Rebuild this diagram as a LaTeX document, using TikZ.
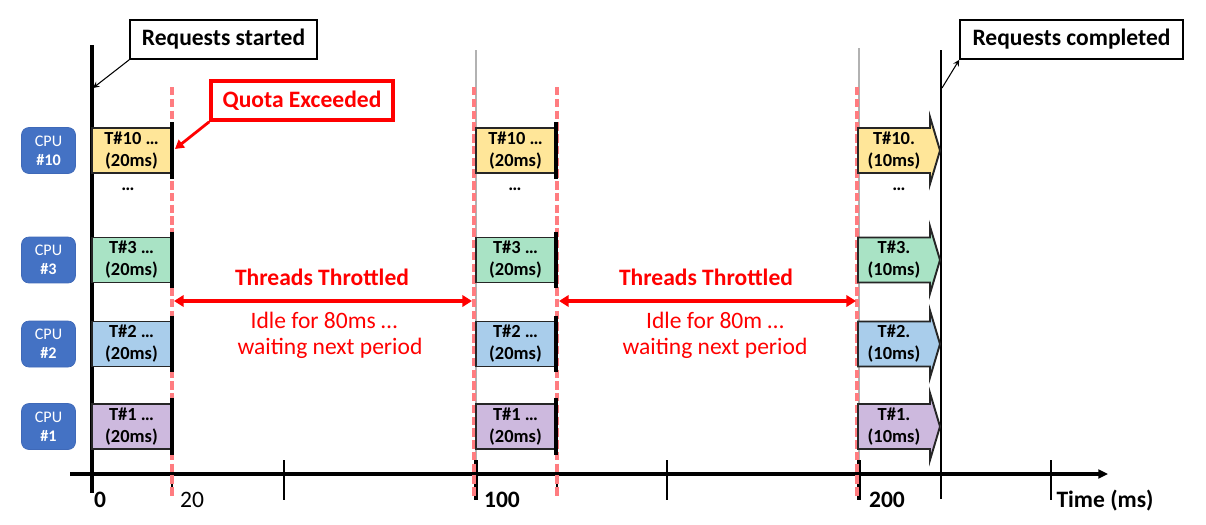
\documentclass[tikz,border=0pt]{standalone}
\usepackage{fontspec}
\setmainfont{Carlito}
\usetikzlibrary{
		calc,
		positioning,
		arrows.meta
	}
\definecolor{cpublue}{HTML}{4472C4}
\definecolor{cpuline}{HTML}{3F69B8}
\definecolor{yellowT}{HTML}{FFE699}
\definecolor{greenT}{HTML}{A9E3C5}
\definecolor{blueT}{HTML}{A9CDEB}
\definecolor{purpleT}{HTML}{CDB9DE}
\definecolor{dashred}{HTML}{FF7C80}
\definecolor{quotared}{HTML}{FF0000}
\tikzset{
		>=stealth
	}

\begin{document}
\begin{tikzpicture}[x=0.02cm,y=-0.02cm,
    cpu/.style={rectangle,rounded corners=0.15cm,fill=cpublue,draw=cpuline,line width=0.4pt,
      minimum width=1.08cm,minimum height=0.92cm,inner sep=0pt,align=center,text=white,
      font=\fontsize{9.2}{10.8}\selectfont},
    task/.style={rectangle,draw=black!85,line width=1.1pt,minimum width=1.58cm,
      minimum height=0.9cm,inner sep=0pt,align=center,font=\bfseries\fontsize{10.5}{12.5}\selectfont},
    tasktext/.style={inner sep=0pt,align=center,font=\bfseries\fontsize{10.5}{12.5}\selectfont},
    endbar/.style={black,line width=1.8pt},
    callout/.style={rectangle,draw=black,line width=0.9pt,minimum height=0.78cm,inner sep=0pt,
      font=\bfseries\fontsize{13.4}{16}\selectfont},
    period/.style={dashred,line width=1.9pt,dash pattern=on 4.8pt off 1.9pt},
    throttle/.style={quotared,line width=2.1pt,{Triangle[length=5.5pt,width=6.5pt]}-{Triangle[length=5.5pt,width=6.5pt]}},
    redtext/.style={text=quotared,inner sep=0pt,font=\fontsize{13.4}{16}\selectfont},
    ticklabel/.style={inner sep=0pt,font=\fontsize{13.4}{16}\selectfont}]
  \useasboundingbox (0,0) rectangle (1206,524);

  % time axis
  \coordinate (axL) at (70,474);
  \coordinate (axR) at (1108,474);
  \draw[line width=2.2pt,-{Triangle[length=5.5pt,width=5pt]}] (axL) -- (axR);

  \coordinate (startTop) at (92,45);
  \coordinate (startBot) at (92,493);
  \draw[line width=2.2pt] (startTop) -- (startBot);
  \coordinate (doneTop) at (941,50);
  \coordinate (doneBot) at (941,499);
  \draw[line width=1.3pt] (doneTop) -- (doneBot);

  \draw[gray!60,line width=0.7pt] (476,50) -- (476,474);
  \draw[gray!60,line width=0.7pt] (859,48) -- (859,474);

  \draw[line width=1pt] (284,460) -- (284,500);
  \draw[line width=1pt] (667,460) -- (667,500);
  \draw[line width=1pt] (1051,460) -- (1051,500);
  \draw[line width=1pt] (172,474) -- (172,490);
  \draw[line width=1pt] (557,474) -- (557,490);
  \draw[line width=2.2pt] (476,460) -- (476,500);
  \draw[line width=2.2pt] (859,460) -- (859,500);

  \node[ticklabel,font=\bfseries\fontsize{13.4}{16}\selectfont] (t0) at (100,500) {0};
  \node[ticklabel] (t20) at (192,500) {20};
  \node[ticklabel,font=\bfseries\fontsize{13.4}{16}\selectfont] (t100) at (502,500) {100};
  \node[ticklabel,font=\bfseries\fontsize{13.4}{16}\selectfont] (t200) at (887,500) {200};
  \node[ticklabel,font=\bfseries\fontsize{13.4}{16}\selectfont] (tunit) at (1105,501) {Time (ms)};

  % quota periods
  \draw[period] (172,87) -- (172,498);
  \draw[period] (474,87) -- (474,498);
  \draw[period] (557,87) -- (557,498);
  \draw[period] (857,87) -- (857,498);

  % cpus and threads
  \foreach \r/\y/\c in {10/150.5/yellowT, 3/260/greenT, 2/344/blueT, 1/426.5/purpleT}{
    \node[cpu] (cpu\r) at (48.5,\y) {CPU\\\textbf{\#\r}};
    \node[task,fill=\c] (ta\r) at (131.5,\y) {T\#\r\ …\\(20ms)};
    \draw[endbar] ($(ta\r.north east)+(0,-5)$) -- ($(ta\r.south east)+(0,5)$);
    \node[task,fill=\c] (tb\r) at (515.5,\y) {T\#\r\ …\\(20ms)};
    \draw[endbar] ($(tb\r.north east)+(0,-5)$) -- ($(tb\r.south east)+(0,5)$);
    \draw[draw=black!85,line width=1.1pt,fill=\c] (858,\y-22.5) -- (930,\y-22.5) -- (930,\y-33.5)
      -- (940,\y) -- (930,\y+33.5) -- (930,\y+22.5) -- (858,\y+22.5) -- cycle;
    \node[tasktext] (tc\r) at (894,\y) {T\#\r.\\(10ms)};
  }
  \node[tasktext] (dotsA) at (128,189) {…};
  \node[tasktext] (dotsB) at (515,189) {…};
  \node[tasktext] (dotsC) at (899,189) {…};

  % throttled intervals
  \coordinate (thA1) at (174,301);
  \coordinate (thA2) at (472,301);
  \coordinate (thB1) at (559,301);
  \coordinate (thB2) at (856,301);
  \draw[throttle] (thA1) -- (thA2);
  \draw[throttle] (thB1) -- (thB2);
  \node[redtext,font=\bfseries\fontsize{13.4}{16}\selectfont] (thrA) at (322,277) {Threads Throttled};
  \node[redtext] (idleA) at (324,320) {Idle for 80ms …};
  \node[redtext] (waitA) at (330,348) {waiting next period};
  \node[redtext,font=\bfseries\fontsize{13.4}{16}\selectfont] (thrB) at (706,277) {Threads Throttled};
  \node[redtext] (idleB) at (715,320) {Idle for 80m …};
  \node[redtext] (waitB) at (715,348) {waiting next period};

  % callouts
  \node[callout,minimum width=3.74cm,fill=white] (started) at (223.5,39.5) {Requests started};
  \coordinate (startedTip) at (93,88);
  \draw[line width=0.6pt,->] (started.south west) -- (startedTip);

  \node[callout,minimum width=4.46cm,fill=white] (completed) at (1071.5,39.5) {Requests completed};
  \coordinate (completedTail) at (942,88);
  \draw[line width=0.6pt,->] (completedTail) -- (completed.south west);

  \node[callout,draw=quotared,text=quotared,line width=2pt,minimum width=3.64cm,fill=white] (quota) at (302,100.5) {Quota Exceeded};
  \coordinate (quotaTip) at (175,149);
  \draw[quotared,line width=1.6pt,-{Triangle[length=5pt,width=5.5pt]}] (quota.south west) -- (quotaTip);
\end{tikzpicture}
\end{document}
